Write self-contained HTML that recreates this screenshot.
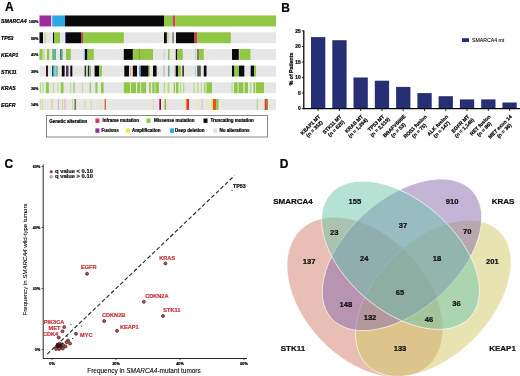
<!DOCTYPE html>
<html lang="en"><head><meta charset="utf-8"><title>SMARCA4 co-mutation figure</title>
<style>
html,body{margin:0;padding:0;background:#fff;}
svg{display:block;filter:blur(0.4px);font-family:"Liberation Sans",sans-serif;}
text{stroke:#000;stroke-width:.2px;}
text.r{stroke:#c4343c;}
text.n{stroke-width:.08px;}
</style></head><body>
<svg width="520" height="376" viewBox="0 0 520 376">
<rect width="520" height="376" fill="#fff"/>
<g id="panelA">
<text x="5" y="10.9" font-size="12" font-weight="bold">A</text>
<rect x="39.5" y="15.5" width="236.5" height="10.9" fill="#e6e6e5"/>
<rect x="39.5" y="15.5" width="11.5" height="10.9" fill="#a02aa0"/>
<rect x="51.0" y="15.5" width="1.3" height="10.9" fill="#cfd6ea"/>
<rect x="52.3" y="15.5" width="12.7" height="10.9" fill="#2aa8e4"/>
<rect x="65.0" y="15.5" width="99.0" height="10.9" fill="#0a0a0a"/>
<rect x="164.0" y="15.5" width="8.8" height="10.9" fill="#90c846"/>
<rect x="172.8" y="15.5" width="2.4" height="10.9" fill="#d83a5c"/>
<rect x="175.2" y="15.5" width="100.8" height="10.9" fill="#90c846"/>
<text x="1" y="23.4" font-size="5.2" font-weight="bold" font-style="italic">SMARCA4</text>
<text x="38.5" y="22.9" font-size="3.8" font-weight="bold" text-anchor="end">100%</text>
<rect x="39.5" y="32.3" width="236.5" height="10.9" fill="#e6e6e5"/>
<rect x="39.5" y="32.3" width="3.5" height="10.9" fill="#0a0a0a"/>
<rect x="44.4" y="32.3" width="1.2" height="10.9" fill="#b5dc7c"/>
<rect x="53.0" y="32.3" width="1.0" height="10.9" fill="#0a0a0a"/>
<rect x="54.0" y="32.3" width="6.0" height="10.9" fill="#90c846"/>
<rect x="65.0" y="32.3" width="1.0" height="10.9" fill="#7a4fa0"/>
<rect x="66.0" y="32.3" width="15.5" height="10.9" fill="#0a0a0a"/>
<rect x="81.5" y="32.3" width="1.5" height="10.9" fill="#d83a5c"/>
<rect x="83.0" y="32.3" width="40.8" height="10.9" fill="#90c846"/>
<rect x="164.0" y="32.3" width="2.8" height="10.9" fill="#0a0a0a"/>
<rect x="167.4" y="32.3" width="1.2" height="10.9" fill="#b5dc7c"/>
<rect x="172.5" y="32.3" width="1.1" height="10.9" fill="#555"/>
<rect x="176.0" y="32.3" width="18.6" height="10.9" fill="#0a0a0a"/>
<rect x="194.6" y="32.3" width="2.4" height="10.9" fill="#d83a5c"/>
<rect x="197.0" y="32.3" width="33.8" height="10.9" fill="#90c846"/>
<text x="1" y="40.2" font-size="5.2" font-weight="bold" font-style="italic">TP53</text>
<text x="38.5" y="39.7" font-size="3.8" font-weight="bold" text-anchor="end">58%</text>
<rect x="39.5" y="49.0" width="236.5" height="10.9" fill="#e6e6e5"/>
<rect x="39.5" y="49.0" width="3.1" height="10.9" fill="#90c846"/>
<rect x="43.5" y="49.0" width="1.1" height="10.9" fill="#b5dc7c"/>
<rect x="47.0" y="49.0" width="2.2" height="10.9" fill="#90c846"/>
<rect x="52.0" y="49.0" width="1.2" height="10.9" fill="#90c846"/>
<rect x="53.2" y="49.0" width="1.4" height="10.9" fill="#3b9fc4"/>
<rect x="54.6" y="49.0" width="1.4" height="10.9" fill="#5fae8a"/>
<rect x="60.0" y="49.0" width="1.2" height="10.9" fill="#2f7f86"/>
<rect x="61.2" y="49.0" width="1.4" height="10.9" fill="#4fa05a"/>
<rect x="66.0" y="49.0" width="4.8" height="10.9" fill="#90c846"/>
<rect x="83.8" y="49.0" width="1.2" height="10.9" fill="#7cc4e4"/>
<rect x="85.0" y="49.0" width="2.4" height="10.9" fill="#0a0a0a"/>
<rect x="87.6" y="49.0" width="6.2" height="10.9" fill="#90c846"/>
<rect x="123.8" y="49.0" width="9.0" height="10.9" fill="#0a0a0a"/>
<rect x="133.0" y="49.0" width="20.0" height="10.9" fill="#90c846"/>
<rect x="139.0" y="49.0" width="0.6" height="10.9" fill="#b06a3a"/>
<rect x="163.8" y="49.0" width="0.8" height="10.9" fill="#a8d4ea"/>
<rect x="168.0" y="49.0" width="1.5" height="10.9" fill="#90c846"/>
<rect x="175.8" y="49.0" width="1.6" height="10.9" fill="#0a0a0a"/>
<rect x="177.4" y="49.0" width="5.4" height="10.9" fill="#90c846"/>
<rect x="195.0" y="49.0" width="1.0" height="10.9" fill="#a8d4ea"/>
<rect x="197.0" y="49.0" width="2.2" height="10.9" fill="#8a7a4a"/>
<rect x="199.2" y="49.0" width="4.6" height="10.9" fill="#90c846"/>
<rect x="232.0" y="49.0" width="6.8" height="10.9" fill="#0a0a0a"/>
<rect x="239.4" y="49.0" width="11.0" height="10.9" fill="#90c846"/>
<text x="1" y="56.9" font-size="5.2" font-weight="bold" font-style="italic">KEAP1</text>
<text x="38.5" y="56.4" font-size="3.8" font-weight="bold" text-anchor="end">41%</text>
<rect x="39.5" y="65.6" width="236.5" height="10.9" fill="#e6e6e5"/>
<rect x="46.0" y="65.6" width="2.0" height="10.9" fill="#3a1418"/>
<rect x="52.0" y="65.6" width="1.0" height="10.9" fill="#2a4a56"/>
<rect x="53.0" y="65.6" width="1.6" height="10.9" fill="#3b9fc4"/>
<rect x="54.6" y="65.6" width="1.6" height="10.9" fill="#8ccfe6"/>
<rect x="56.2" y="65.6" width="1.5" height="10.9" fill="#6fb37c"/>
<rect x="61.8" y="65.6" width="2.8" height="10.9" fill="#0a0a0a"/>
<rect x="66.0" y="65.6" width="2.5" height="10.9" fill="#5a3060"/>
<rect x="70.3" y="65.6" width="2.0" height="10.9" fill="#0a0a0a"/>
<rect x="84.6" y="65.6" width="1.4" height="10.9" fill="#2c3a22"/>
<rect x="86.6" y="65.6" width="1.0" height="10.9" fill="#9ab08a"/>
<rect x="88.0" y="65.6" width="1.2" height="10.9" fill="#222"/>
<rect x="89.4" y="65.6" width="1.4" height="10.9" fill="#7fae5a"/>
<rect x="94.6" y="65.6" width="4.6" height="10.9" fill="#0a0a0a"/>
<rect x="99.2" y="65.6" width="2.7" height="10.9" fill="#90c846"/>
<rect x="124.3" y="65.6" width="4.7" height="10.9" fill="#0a0a0a"/>
<rect x="130.0" y="65.6" width="1.2" height="10.9" fill="#e6a48a"/>
<rect x="132.8" y="65.6" width="4.2" height="10.9" fill="#0a0a0a"/>
<rect x="139.2" y="65.6" width="1.6" height="10.9" fill="#4a88c0"/>
<rect x="140.8" y="65.6" width="7.7" height="10.9" fill="#0a0a0a"/>
<rect x="149.0" y="65.6" width="1.0" height="10.9" fill="#b0c850"/>
<rect x="153.0" y="65.6" width="3.6" height="10.9" fill="#0a0a0a"/>
<rect x="163.5" y="65.6" width="1.1" height="10.9" fill="#c4a8c8"/>
<rect x="168.0" y="65.6" width="1.5" height="10.9" fill="#6aa890"/>
<rect x="174.6" y="65.6" width="1.1" height="10.9" fill="#b8a0c0"/>
<rect x="175.8" y="65.6" width="2.2" height="10.9" fill="#0a0a0a"/>
<rect x="178.0" y="65.6" width="3.0" height="10.9" fill="#90c846"/>
<rect x="182.3" y="65.6" width="1.5" height="10.9" fill="#3a1418"/>
<rect x="195.0" y="65.6" width="1.0" height="10.9" fill="#a8d4ea"/>
<rect x="197.2" y="65.6" width="3.6" height="10.9" fill="#55584a"/>
<rect x="203.8" y="65.6" width="2.7" height="10.9" fill="#0a0a0a"/>
<rect x="232.0" y="65.6" width="2.4" height="10.9" fill="#0a0a0a"/>
<rect x="234.4" y="65.6" width="4.0" height="10.9" fill="#90c846"/>
<rect x="238.8" y="65.6" width="5.5" height="10.9" fill="#0a0a0a"/>
<rect x="250.7" y="65.6" width="3.3" height="10.9" fill="#0a0a0a"/>
<rect x="254.0" y="65.6" width="2.0" height="10.9" fill="#90c846"/>
<text x="1" y="73.5" font-size="5.2" font-weight="bold" font-style="italic">STK11</text>
<text x="38.5" y="73.0" font-size="3.8" font-weight="bold" text-anchor="end">39%</text>
<rect x="39.5" y="82.3" width="236.5" height="10.9" fill="#e6e6e5"/>
<rect x="40.0" y="82.3" width="1.0" height="10.9" fill="#b5dc7c"/>
<rect x="42.6" y="82.3" width="0.9" height="10.9" fill="#b5dc7c"/>
<rect x="46.0" y="82.3" width="2.8" height="10.9" fill="#90c846"/>
<rect x="53.0" y="82.3" width="1.0" height="10.9" fill="#b5dc7c"/>
<rect x="57.7" y="82.3" width="0.8" height="10.9" fill="#b5dc7c"/>
<rect x="60.8" y="82.3" width="2.7" height="10.9" fill="#90c846"/>
<rect x="70.3" y="82.3" width="0.9" height="10.9" fill="#b5dc7c"/>
<rect x="73.5" y="82.3" width="1.1" height="10.9" fill="#90c846"/>
<rect x="82.3" y="82.3" width="0.7" height="10.9" fill="#b5dc7c"/>
<rect x="89.7" y="82.3" width="1.1" height="10.9" fill="#90c846"/>
<rect x="95.4" y="82.3" width="2.0" height="10.9" fill="#90c846"/>
<rect x="101.0" y="82.3" width="2.6" height="10.9" fill="#90c846"/>
<rect x="123.8" y="82.3" width="6.2" height="10.9" fill="#90c846"/>
<rect x="130.8" y="82.3" width="5.2" height="10.9" fill="#90c846"/>
<rect x="137.2" y="82.3" width="3.1" height="10.9" fill="#90c846"/>
<rect x="141.2" y="82.3" width="4.8" height="10.9" fill="#90c846"/>
<rect x="149.2" y="82.3" width="1.6" height="10.9" fill="#90c846"/>
<rect x="152.3" y="82.3" width="2.3" height="10.9" fill="#90c846"/>
<rect x="155.4" y="82.3" width="3.4" height="10.9" fill="#90c846"/>
<rect x="163.8" y="82.3" width="1.2" height="10.9" fill="#b5dc7c"/>
<rect x="167.7" y="82.3" width="1.8" height="10.9" fill="#b5dc7c"/>
<rect x="173.8" y="82.3" width="1.2" height="10.9" fill="#90c846"/>
<rect x="176.0" y="82.3" width="2.5" height="10.9" fill="#90c846"/>
<rect x="180.0" y="82.3" width="1.2" height="10.9" fill="#b5dc7c"/>
<rect x="183.0" y="82.3" width="1.3" height="10.9" fill="#b5dc7c"/>
<rect x="193.5" y="82.3" width="1.1" height="10.9" fill="#b5dc7c"/>
<rect x="197.2" y="82.3" width="1.3" height="10.9" fill="#b5dc7c"/>
<rect x="200.8" y="82.3" width="1.0" height="10.9" fill="#b5dc7c"/>
<rect x="204.3" y="82.3" width="1.1" height="10.9" fill="#90c846"/>
<rect x="206.5" y="82.3" width="5.5" height="10.9" fill="#90c846"/>
<rect x="231.5" y="82.3" width="1.1" height="10.9" fill="#b5dc7c"/>
<rect x="234.0" y="82.3" width="3.7" height="10.9" fill="#90c846"/>
<rect x="238.5" y="82.3" width="4.9" height="10.9" fill="#90c846"/>
<rect x="244.6" y="82.3" width="3.4" height="10.9" fill="#90c846"/>
<rect x="250.0" y="82.3" width="1.5" height="10.9" fill="#b5dc7c"/>
<rect x="253.5" y="82.3" width="1.5" height="10.9" fill="#90c846"/>
<rect x="255.8" y="82.3" width="8.2" height="10.9" fill="#90c846"/>
<text x="1" y="90.2" font-size="5.2" font-weight="bold" font-style="italic">KRAS</text>
<text x="38.5" y="89.7" font-size="3.8" font-weight="bold" text-anchor="end">36%</text>
<rect x="39.5" y="99.0" width="236.5" height="10.9" fill="#e6e6e5"/>
<rect x="40.5" y="99.0" width="0.6" height="10.9" fill="#b5dc7c"/>
<rect x="42.3" y="99.0" width="0.6" height="10.9" fill="#b5dc7c"/>
<rect x="51.5" y="99.0" width="0.9" height="10.9" fill="#e8b48a"/>
<rect x="58.2" y="99.0" width="0.8" height="10.9" fill="#e89ab8"/>
<rect x="62.3" y="99.0" width="0.7" height="10.9" fill="#b5dc7c"/>
<rect x="64.6" y="99.0" width="0.8" height="10.9" fill="#e89ab8"/>
<rect x="72.3" y="99.0" width="0.7" height="10.9" fill="#b5dc7c"/>
<rect x="74.6" y="99.0" width="1.1" height="10.9" fill="#5a3a1a"/>
<rect x="84.6" y="99.0" width="0.7" height="10.9" fill="#b5dc7c"/>
<rect x="90.8" y="99.0" width="0.7" height="10.9" fill="#b5dc7c"/>
<rect x="100.0" y="99.0" width="0.8" height="10.9" fill="#dfe2a0"/>
<rect x="104.6" y="99.0" width="1.3" height="10.9" fill="#d8602a"/>
<rect x="153.0" y="99.0" width="0.6" height="10.9" fill="#b5dc7c"/>
<rect x="159.0" y="99.0" width="1.0" height="10.9" fill="#e0409a"/>
<rect x="160.0" y="99.0" width="1.0" height="10.9" fill="#8a1a2a"/>
<rect x="164.6" y="99.0" width="1.2" height="10.9" fill="#7aa838"/>
<rect x="167.0" y="99.0" width="0.6" height="10.9" fill="#e8e4a0"/>
<rect x="172.0" y="99.0" width="3.0" height="10.9" fill="#eedfe4"/>
<rect x="185.4" y="99.0" width="1.1" height="10.9" fill="#f2e64a"/>
<rect x="186.5" y="99.0" width="2.5" height="10.9" fill="#e0342c"/>
<rect x="197.2" y="99.0" width="1.6" height="10.9" fill="#ece8a8"/>
<rect x="201.5" y="99.0" width="1.0" height="10.9" fill="#dcb8d4"/>
<rect x="207.6" y="99.0" width="0.8" height="10.9" fill="#ece8a8"/>
<rect x="211.5" y="99.0" width="1.5" height="10.9" fill="#f2e64a"/>
<rect x="213.0" y="99.0" width="3.2" height="10.9" fill="#e2502c"/>
<rect x="216.2" y="99.0" width="2.3" height="10.9" fill="#90c846"/>
<rect x="256.8" y="99.0" width="0.7" height="10.9" fill="#90c846"/>
<rect x="264.7" y="99.0" width="2.1" height="10.9" fill="#e0342c"/>
<rect x="266.8" y="99.0" width="1.2" height="10.9" fill="#8a9a30"/>
<text x="1" y="106.9" font-size="5.2" font-weight="bold" font-style="italic">EGFR</text>
<text x="38.5" y="106.4" font-size="3.8" font-weight="bold" text-anchor="end">14%</text>
<rect x="46.5" y="115.6" width="221" height="21.4" fill="#fff" stroke="#555" stroke-width="0.7"/>
<text x="49.2" y="122.8" font-size="4.5" font-weight="bold">Genetic alteration</text>
<rect x="95.4" y="118.5" width="4" height="4.4" fill="#e0306e"/>
<text x="102.4" y="122.4" font-size="4.5" font-weight="bold">Inframe mutation</text>
<rect x="146.5" y="118.5" width="4" height="4.4" fill="#90c846"/>
<text x="153.9" y="122.4" font-size="4.5" font-weight="bold">Missense mutation</text>
<rect x="203.5" y="118.5" width="4" height="4.4" fill="#0a0a0a"/>
<text x="210.4" y="122.4" font-size="4.5" font-weight="bold">Truncating mutation</text>
<rect x="95.4" y="128.4" width="4" height="4.4" fill="#a02aa0"/>
<text x="101.4" y="132.3" font-size="4.5" font-weight="bold">Fusions</text>
<rect x="126.0" y="128.4" width="4" height="4.4" fill="#f2e64a"/>
<text x="132.0" y="132.3" font-size="4.5" font-weight="bold">Amplification</text>
<rect x="170.0" y="128.4" width="4" height="4.4" fill="#2aa8e4"/>
<text x="175.0" y="132.3" font-size="4.5" font-weight="bold">Deep deletion</text>
<rect x="213.2" y="128.4" width="4" height="4.4" fill="#e2e2e2"/>
<text x="219.4" y="132.3" font-size="4.5" font-weight="bold">No alterations</text>
</g>
<g id="panelB">
<text x="281.2" y="12.3" font-size="12" font-weight="bold">B</text>
<rect x="311.0" y="37.1" width="14.3" height="71.6" fill="#272f74"/>
<rect x="332.3" y="40.2" width="14.3" height="68.5" fill="#272f74"/>
<rect x="353.5" y="77.5" width="14.3" height="31.2" fill="#272f74"/>
<rect x="374.8" y="80.7" width="14.3" height="28.0" fill="#272f74"/>
<rect x="396.1" y="86.9" width="14.3" height="21.8" fill="#272f74"/>
<rect x="417.4" y="93.1" width="14.3" height="15.6" fill="#272f74"/>
<rect x="438.6" y="96.2" width="14.3" height="12.5" fill="#272f74"/>
<rect x="459.9" y="99.4" width="14.3" height="9.3" fill="#272f74"/>
<rect x="481.2" y="99.4" width="14.3" height="9.3" fill="#272f74"/>
<rect x="502.4" y="102.5" width="14.3" height="6.2" fill="#272f74"/>
<path d="M303.8 30.4V108.7H520" fill="none" stroke="#000" stroke-width="1.25"/>
<path d="M301.9 108.7H303.8" stroke="#000" stroke-width="0.9"/>
<text x="300.7" y="110.4" font-size="4.9" font-weight="bold" text-anchor="end">0</text>
<path d="M301.9 93.1H303.8" stroke="#000" stroke-width="0.9"/>
<text x="300.7" y="94.8" font-size="4.9" font-weight="bold" text-anchor="end">5</text>
<path d="M301.9 77.5H303.8" stroke="#000" stroke-width="0.9"/>
<text x="300.7" y="79.2" font-size="4.9" font-weight="bold" text-anchor="end">10</text>
<path d="M301.9 62.0H303.8" stroke="#000" stroke-width="0.9"/>
<text x="300.7" y="63.7" font-size="4.9" font-weight="bold" text-anchor="end">15</text>
<path d="M301.9 46.4H303.8" stroke="#000" stroke-width="0.9"/>
<text x="300.7" y="48.1" font-size="4.9" font-weight="bold" text-anchor="end">20</text>
<path d="M301.9 30.8H303.8" stroke="#000" stroke-width="0.9"/>
<text x="300.7" y="32.5" font-size="4.9" font-weight="bold" text-anchor="end">25</text>
<text transform="translate(292.6 69) rotate(-90)" font-size="5.2" font-weight="bold" text-anchor="middle">% of Patients</text>
<path d="M318.1 108.7V111.10000000000001" stroke="#000" stroke-width="0.8"/>
<g transform="translate(319.9 116.1) rotate(-45)" font-size="5.1" font-weight="bold"><text x="0" y="1.2" text-anchor="end">KEAP1 MT</text><text x="-12.9" y="6.9" text-anchor="middle">(n = 352)</text></g>
<path d="M339.4 108.7V111.10000000000001" stroke="#000" stroke-width="0.8"/>
<g transform="translate(341.2 116.1) rotate(-45)" font-size="5.1" font-weight="bold"><text x="0" y="1.2" text-anchor="end">STK11 MT</text><text x="-12.3" y="6.9" text-anchor="middle">(n = 625)</text></g>
<path d="M360.7 108.7V111.10000000000001" stroke="#000" stroke-width="0.8"/>
<g transform="translate(362.5 116.1) rotate(-45)" font-size="5.1" font-weight="bold"><text x="0" y="1.2" text-anchor="end">KRAS MT</text><text x="-11.6" y="6.9" text-anchor="middle">(n = 1,394)</text></g>
<path d="M382.0 108.7V111.10000000000001" stroke="#000" stroke-width="0.8"/>
<g transform="translate(383.8 116.1) rotate(-45)" font-size="5.1" font-weight="bold"><text x="0" y="1.2" text-anchor="end">TP53 MT</text><text x="-10.5" y="6.9" text-anchor="middle">(n = 2,519)</text></g>
<path d="M403.2 108.7V111.10000000000001" stroke="#000" stroke-width="0.8"/>
<g transform="translate(405.0 116.1) rotate(-45)" font-size="5.1" font-weight="bold"><text x="0" y="1.2" text-anchor="end">BRAFV600E</text><text x="-14.7" y="6.9" text-anchor="middle">(n = 53)</text></g>
<path d="M424.5 108.7V111.10000000000001" stroke="#000" stroke-width="0.8"/>
<g transform="translate(426.3 116.1) rotate(-45)" font-size="5.1" font-weight="bold"><text x="0" y="1.2" text-anchor="end">ROS1 fusion</text><text x="-15.3" y="6.9" text-anchor="middle">(n = 75)</text></g>
<path d="M445.8 108.7V111.10000000000001" stroke="#000" stroke-width="0.8"/>
<g transform="translate(447.6 116.1) rotate(-45)" font-size="5.1" font-weight="bold"><text x="0" y="1.2" text-anchor="end">ALK fusion</text><text x="-13.6" y="6.9" text-anchor="middle">(n = 147)</text></g>
<path d="M467.0 108.7V111.10000000000001" stroke="#000" stroke-width="0.8"/>
<g transform="translate(468.8 116.1) rotate(-45)" font-size="5.1" font-weight="bold"><text x="0" y="1.2" text-anchor="end">EGFR MT</text><text x="-11.5" y="6.9" text-anchor="middle">(n = 1,140)</text></g>
<path d="M488.3 108.7V111.10000000000001" stroke="#000" stroke-width="0.8"/>
<g transform="translate(490.1 116.1) rotate(-45)" font-size="5.1" font-weight="bold"><text x="0" y="1.2" text-anchor="end">RET fusion</text><text x="-13.5" y="6.9" text-anchor="middle">(n = 86)</text></g>
<path d="M509.6 108.7V111.10000000000001" stroke="#000" stroke-width="0.8"/>
<g transform="translate(511.4 116.1) rotate(-45)" font-size="5.1" font-weight="bold"><text x="0" y="1.2" text-anchor="end">MET exon 14</text><text x="-15.6" y="6.9" text-anchor="middle">(n = 36)</text></g>
<rect x="462" y="38.2" width="7" height="3.8" fill="#272f74"/>
<text class="n" x="472" y="42" font-size="5.2">SMARCA4 mt</text>
</g>
<g id="panelC">
<text x="4.4" y="167.6" font-size="12" font-weight="bold">C</text>
<path d="M43.2 164.4V358.5H247" fill="none" stroke="#111" stroke-width="0.9"/>
<path d="M41.6 349.5H43.2" stroke="#111" stroke-width="0.7"/>
<text x="40.2" y="350.8" font-size="3.7" font-weight="bold" text-anchor="end">0%</text>
<path d="M52.0 358.5V360.1" stroke="#111" stroke-width="0.7"/>
<text x="52.0" y="364.8" font-size="3.7" font-weight="bold" text-anchor="middle">0%</text>
<path d="M41.6 288.5H43.2" stroke="#111" stroke-width="0.7"/>
<text x="40.2" y="289.8" font-size="3.7" font-weight="bold" text-anchor="end">20%</text>
<path d="M116.0 358.5V360.1" stroke="#111" stroke-width="0.7"/>
<text x="116.0" y="364.8" font-size="3.7" font-weight="bold" text-anchor="middle">20%</text>
<path d="M41.6 227.5H43.2" stroke="#111" stroke-width="0.7"/>
<text x="40.2" y="228.8" font-size="3.7" font-weight="bold" text-anchor="end">40%</text>
<path d="M180.0 358.5V360.1" stroke="#111" stroke-width="0.7"/>
<text x="180.0" y="364.8" font-size="3.7" font-weight="bold" text-anchor="middle">40%</text>
<path d="M41.6 166.5H43.2" stroke="#111" stroke-width="0.7"/>
<text x="40.2" y="167.8" font-size="3.7" font-weight="bold" text-anchor="end">60%</text>
<path d="M244.0 358.5V360.1" stroke="#111" stroke-width="0.7"/>
<text x="244.0" y="364.8" font-size="3.7" font-weight="bold" text-anchor="middle">60%</text>
<path d="M47.2 354.1L234.4 175.7" stroke="#222" stroke-width="1.1" stroke-dasharray="4 2.3" fill="none"/>
<text class="n" transform="translate(26.6 259.5) rotate(-90)" font-size="6.07" text-anchor="middle">Frequency in <tspan font-style="italic">SMARCA4</tspan> wild-type tumors</text>
<text class="n" x="144" y="373" font-size="6.45" text-anchor="middle">Frequency in <tspan font-style="italic">SMARCA4</tspan>-mutant tumors</text>
<circle cx="51.2" cy="171.8" r="1.2" fill="#c4505a" stroke="#3c1519" stroke-width="0.6"/>
<circle cx="51.2" cy="176.8" r="1.2" fill="#fff" stroke="#333" stroke-width="0.6"/>
<text x="55" y="172.6" font-size="5.8" font-weight="bold" fill="#222">q value &lt; 0.10</text>
<text x="55" y="177.6" font-size="5.8" font-weight="bold" fill="#222">q value &gt; 0.10</text>
<circle cx="57.5" cy="344.2" r="1.2" fill="#1a1a1a"/>
<circle cx="59" cy="345.4" r="1.2" fill="#1a1a1a"/>
<circle cx="60.4" cy="344.4" r="1.2" fill="#1a1a1a"/>
<circle cx="58.2" cy="346.6" r="1.2" fill="#1a1a1a"/>
<circle cx="61.2" cy="346" r="1.2" fill="#1a1a1a"/>
<circle cx="56.6" cy="347.6" r="1.2" fill="#1a1a1a"/>
<circle cx="62.4" cy="343.6" r="1.2" fill="#1a1a1a"/>
<circle cx="87" cy="273.7" r="1.5" fill="#c4505a" stroke="#3c1519" stroke-width="0.7"/>
<circle cx="165.4" cy="263.4" r="1.5" fill="#c4505a" stroke="#3c1519" stroke-width="0.7"/>
<circle cx="143.8" cy="301.8" r="1.5" fill="#c4505a" stroke="#3c1519" stroke-width="0.7"/>
<circle cx="163" cy="316" r="1.5" fill="#c4505a" stroke="#3c1519" stroke-width="0.7"/>
<circle cx="104.2" cy="321.1" r="1.5" fill="#c4505a" stroke="#3c1519" stroke-width="0.7"/>
<circle cx="117" cy="330.8" r="1.5" fill="#c4505a" stroke="#3c1519" stroke-width="0.7"/>
<circle cx="76" cy="333.8" r="1.5" fill="#c4505a" stroke="#3c1519" stroke-width="0.7"/>
<circle cx="64.3" cy="327.1" r="1.5" fill="#c4505a" stroke="#3c1519" stroke-width="0.7"/>
<circle cx="62.5" cy="331.3" r="1.5" fill="#c4505a" stroke="#3c1519" stroke-width="0.7"/>
<circle cx="58.7" cy="337.6" r="1.5" fill="#c4505a" stroke="#3c1519" stroke-width="0.7"/>
<circle cx="68" cy="340.5" r="1.5" fill="#c4505a" stroke="#3c1519" stroke-width="0.7"/>
<circle cx="70" cy="343.5" r="1.5" fill="#c4505a" stroke="#3c1519" stroke-width="0.7"/>
<circle cx="66.5" cy="342.2" r="1.5" fill="#c4505a" stroke="#3c1519" stroke-width="0.7"/>
<circle cx="63.6" cy="345.8" r="1.5" fill="#c4505a" stroke="#3c1519" stroke-width="0.7"/>
<circle cx="60.6" cy="347.3" r="1.5" fill="#c4505a" stroke="#3c1519" stroke-width="0.7"/>
<circle cx="56.9" cy="346.5" r="1.5" fill="#c4505a" stroke="#3c1519" stroke-width="0.7"/>
<circle cx="56.1" cy="349" r="1.5" fill="#c4505a" stroke="#3c1519" stroke-width="0.7"/>
<circle cx="59.1" cy="349" r="1.5" fill="#c4505a" stroke="#3c1519" stroke-width="0.7"/>
<circle cx="62.8" cy="348.5" r="1.5" fill="#c4505a" stroke="#3c1519" stroke-width="0.7"/>
<circle cx="59.5" cy="343.8" r="1.5" fill="#c4505a" stroke="#3c1519" stroke-width="0.7"/>
<circle cx="65.5" cy="346.5" r="1.5" fill="#c4505a" stroke="#3c1519" stroke-width="0.7"/>
<circle cx="58" cy="345.2" r="1.5" fill="#c4505a" stroke="#3c1519" stroke-width="0.7"/>
<circle cx="57.4" cy="344.4" r="1.1" fill="#2a1a1c" fill-opacity="0.55" stroke="#1a1a1a" stroke-width="0.7"/>
<circle cx="59" cy="345.6" r="1.1" fill="#2a1a1c" fill-opacity="0.55" stroke="#1a1a1a" stroke-width="0.7"/>
<circle cx="60.5" cy="344.6" r="1.1" fill="#2a1a1c" fill-opacity="0.55" stroke="#1a1a1a" stroke-width="0.7"/>
<circle cx="58.2" cy="346.6" r="1.1" fill="#2a1a1c" fill-opacity="0.55" stroke="#1a1a1a" stroke-width="0.7"/>
<circle cx="60.8" cy="346.3" r="1.1" fill="#2a1a1c" fill-opacity="0.55" stroke="#1a1a1a" stroke-width="0.7"/>
<circle cx="56.8" cy="346.0" r="1.1" fill="#2a1a1c" fill-opacity="0.55" stroke="#1a1a1a" stroke-width="0.7"/>
<circle cx="71" cy="324.5" r="0.55" fill="#222"/>
<circle cx="81.5" cy="326" r="0.55" fill="#222"/>
<circle cx="232" cy="190.5" r="0.55" fill="#222"/>
<circle cx="67" cy="336.2" r="0.55" fill="#222"/>
<circle cx="72.5" cy="338.5" r="0.55" fill="#222"/>
<text class="r" x="88.8" y="269.2" font-size="5.6" font-weight="bold" fill="#c4343c" text-anchor="middle">EGFR</text>
<text class="r" x="167.2" y="260.2" font-size="5.6" font-weight="bold" fill="#c4343c" text-anchor="middle">KRAS</text>
<text class="r" x="145.2" y="298.4" font-size="5.6" font-weight="bold" fill="#c4343c" text-anchor="start">CDKN2A</text>
<text class="r" x="163.3" y="312.2" font-size="5.6" font-weight="bold" fill="#c4343c" text-anchor="start">STK11</text>
<text class="r" x="102" y="316.8" font-size="5.6" font-weight="bold" fill="#c4343c" text-anchor="start">CDKN2B</text>
<text class="r" x="120" y="328.8" font-size="5.6" font-weight="bold" fill="#c4343c" text-anchor="start">KEAP1</text>
<text class="r" x="80" y="337.4" font-size="5.6" font-weight="bold" fill="#c4343c" text-anchor="start">MYC</text>
<text class="r" x="43.8" y="324.2" font-size="5.6" font-weight="bold" fill="#c4343c" text-anchor="start">PIK3CA</text>
<text class="r" x="48.6" y="330.2" font-size="5.6" font-weight="bold" fill="#c4343c" text-anchor="start">MET</text>
<text class="r" x="43" y="335.6" font-size="5.6" font-weight="bold" fill="#c4343c" text-anchor="start">CDK4</text>
<text x="233" y="187.8" font-size="5.3" font-weight="bold" fill="#222" text-anchor="start">TP53</text>
</g>
<g id="panelD">
<text x="279.8" y="167.5" font-size="12" font-weight="bold">D</text>
<ellipse cx="365.0" cy="297.2" rx="93.3" ry="61.5" transform="rotate(46.8 365.0 297.2)" fill="#d37d69" fill-opacity="0.5" stroke="#fff" stroke-opacity="0.8" stroke-width="0.8"/>
<ellipse cx="433.3" cy="298.3" rx="94.1" ry="57.5" transform="rotate(-45.3 433.3 298.3)" fill="#d1c965" fill-opacity="0.5" stroke="#fff" stroke-opacity="0.8" stroke-width="0.8"/>
<ellipse cx="402.0" cy="254.8" rx="95.0" ry="55.5" transform="rotate(-42.1 402.0 254.8)" fill="#8969ad" fill-opacity="0.5" stroke="#fff" stroke-opacity="0.8" stroke-width="0.8"/>
<ellipse cx="400.5" cy="255.3" rx="93.2" ry="55.1" transform="rotate(41.2 400.5 255.3)" fill="#6cc6aa" fill-opacity="0.5" stroke="#fff" stroke-opacity="0.8" stroke-width="0.8"/>
<text x="293" y="203.7" font-size="8" font-weight="bold" fill="#111" text-anchor="middle">SMARCA4</text>
<text x="503" y="203.7" font-size="8" font-weight="bold" fill="#111" text-anchor="middle">KRAS</text>
<text x="293" y="351.3" font-size="8" font-weight="bold" fill="#111" text-anchor="middle">STK11</text>
<text x="502.5" y="351.3" font-size="8" font-weight="bold" fill="#111" text-anchor="middle">KEAP1</text>
<text x="354.8" y="203.7" font-size="7.6" font-weight="bold" fill="#111" text-anchor="middle">155</text>
<text x="452.2" y="203.7" font-size="7.6" font-weight="bold" fill="#111" text-anchor="middle">910</text>
<text x="403" y="227.7" font-size="7.6" font-weight="bold" fill="#111" text-anchor="middle">37</text>
<text x="334.2" y="234.7" font-size="7.6" font-weight="bold" fill="#111" text-anchor="middle">23</text>
<text x="467.2" y="233.7" font-size="7.6" font-weight="bold" fill="#111" text-anchor="middle">70</text>
<text x="309.2" y="264.4" font-size="7.6" font-weight="bold" fill="#111" text-anchor="middle">137</text>
<text x="364.2" y="261.4" font-size="7.6" font-weight="bold" fill="#111" text-anchor="middle">24</text>
<text x="437" y="260.7" font-size="7.6" font-weight="bold" fill="#111" text-anchor="middle">18</text>
<text x="492.4" y="264.4" font-size="7.6" font-weight="bold" fill="#111" text-anchor="middle">201</text>
<text x="400" y="295.0" font-size="7.6" font-weight="bold" fill="#111" text-anchor="middle">65</text>
<text x="345.9" y="306.5" font-size="7.6" font-weight="bold" fill="#111" text-anchor="middle">148</text>
<text x="456.4" y="305.9" font-size="7.6" font-weight="bold" fill="#111" text-anchor="middle">36</text>
<text x="370" y="320.3" font-size="7.6" font-weight="bold" fill="#111" text-anchor="middle">132</text>
<text x="429" y="321.5" font-size="7.6" font-weight="bold" fill="#111" text-anchor="middle">46</text>
<text x="400" y="350.5" font-size="7.6" font-weight="bold" fill="#111" text-anchor="middle">133</text>
</g>
</svg>
</body></html>
